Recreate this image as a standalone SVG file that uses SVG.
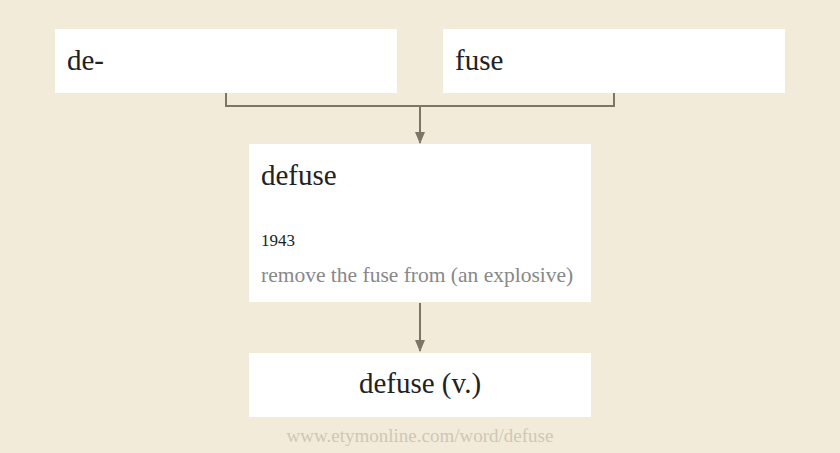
<svg xmlns="http://www.w3.org/2000/svg" width="840" height="453" viewBox="0 0 840 453">
<defs>
<style>
.box{fill:#ffffff}
.t{font-family:"Liberation Serif","DejaVu Serif",serif;fill:#222222}
.big{font-size:29px}
.yr{font-size:17px}
.gl{font-size:21.5px;fill:#888888}
.con{fill:none;stroke:#7d7668;stroke-width:2}
.foot{font-family:"Liberation Serif",serif;font-size:19px;fill:#cfc7b6}
</style>
<marker id="ah" markerWidth="12" markerHeight="12" refX="11" refY="6" orient="auto" markerUnits="userSpaceOnUse">
<path d="M0,1 L12,6 L0,11 Z" fill="#7d7668"/>
</marker>
</defs>
<rect width="840" height="453" fill="#f2ebda"/>
<g id="connectors">
<path class="con" d="M226,93 V106 H614 V93"/>
<path class="con" d="M420,106 V143" marker-end="url(#ah)"/>
<path class="con" d="M420,303 V351" marker-end="url(#ah)"/>
</g>
<g id="node-de">
<rect class="box" x="55" y="29" width="342" height="64"/>
<text class="t big" x="67" y="70">de-</text>
</g>
<g id="node-fuse">
<rect class="box" x="443" y="29" width="342" height="64"/>
<text class="t big" x="455" y="70">fuse</text>
</g>
<g id="node-defuse">
<rect class="box" x="249" y="144" width="342" height="158"/>
<text class="t big" x="261" y="185">defuse</text>
<text class="t yr" x="261" y="246">1943</text>
<text class="t gl" x="261" y="282">remove the fuse from (an explosive)</text>
</g>
<g id="node-defuse-v">
<rect class="box" x="249" y="353" width="342" height="64"/>
<text class="t big" x="420" y="393" text-anchor="middle">defuse (v.)</text>
</g>
<text class="foot" x="420" y="442" text-anchor="middle">www.etymonline.com/word/defuse</text>
</svg>
